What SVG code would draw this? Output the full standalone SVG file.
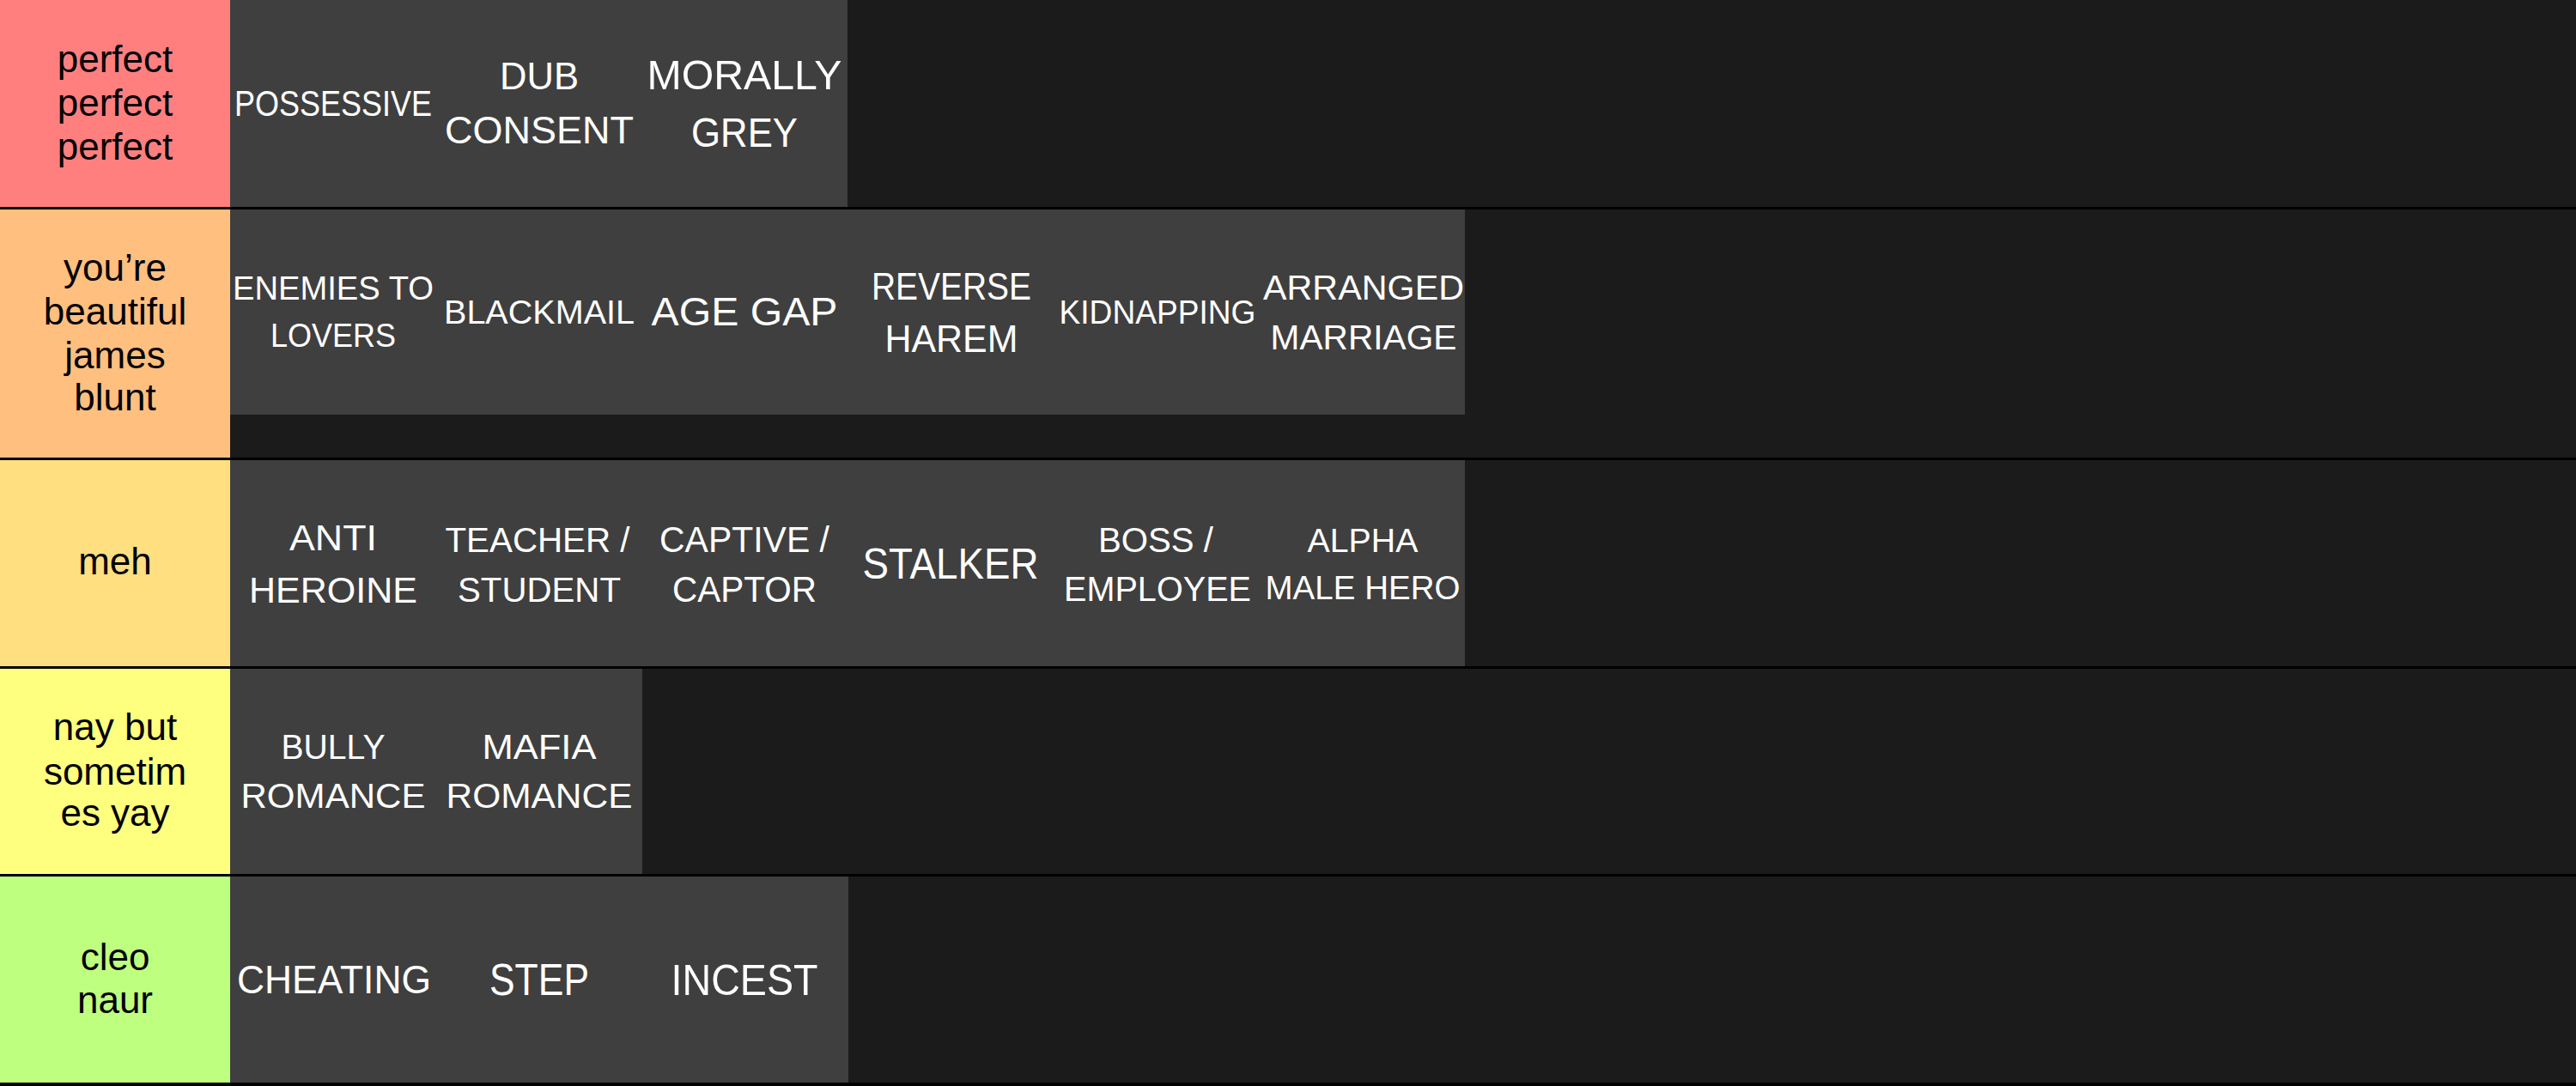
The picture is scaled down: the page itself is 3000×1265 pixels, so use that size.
<svg xmlns="http://www.w3.org/2000/svg" width="3000" height="1265" viewBox="0 0 3000 1265">
<style>
.lbl{font-family:"Liberation Sans",Arial,sans-serif;font-size:44px;fill:#000;text-anchor:middle}
.it{font-family:"Liberation Sans",Arial,sans-serif;fill:#fff;text-anchor:middle}
.card{fill:#3f3f3f}
.sep{fill:#000}
</style>
<rect x="0" y="0" width="3000" height="1265" fill="#1b1b1b"/>
<g id="connectors"></g>
<g id="separators">
<rect class="sep" x="0" y="241" width="3000" height="3"/>
<rect class="sep" x="0" y="533" width="3000" height="3"/>
<rect class="sep" x="0" y="776" width="3000" height="3"/>
<rect class="sep" x="0" y="1018" width="3000" height="3"/>
<rect class="sep" x="0" y="1261" width="3000" height="4"/>
</g>
<g id="tier-s">
<rect x="0" y="0" width="268" height="241" fill="#ff7f7f"/>
<text class="lbl" x="134" y="84">perfect</text>
<text class="lbl" x="134" y="135">perfect</text>
<text class="lbl" x="134" y="186">perfect</text>
</g>
<g id="tier-a">
<rect x="0" y="244" width="268" height="289" fill="#ffbf7f"/>
<text class="lbl" x="134" y="327">you’re</text>
<text class="lbl" x="134" y="378">beautiful</text>
<text class="lbl" x="134" y="429">james</text>
<text class="lbl" x="134" y="478">blunt</text>
</g>
<g id="tier-b">
<rect x="0" y="536" width="268" height="240" fill="#ffdf7f"/>
<text class="lbl" x="134" y="669">meh</text>
</g>
<g id="tier-c">
<rect x="0" y="779" width="268" height="239" fill="#ffff7f"/>
<text class="lbl" x="134" y="862">nay but</text>
<text class="lbl" x="134" y="914">sometim</text>
<text class="lbl" x="134" y="962">es yay</text>
</g>
<g id="tier-d">
<rect x="0" y="1021" width="268" height="240" fill="#bfff7f"/>
<text class="lbl" x="134" y="1130">cleo</text>
<text class="lbl" x="134" y="1180">naur</text>
</g>

<g id="item-possessive">
<rect class="card" x="268" y="0" width="240" height="241"/>
<text class="it" x="388" y="135" font-size="42" textLength="230" lengthAdjust="spacingAndGlyphs">POSSESSIVE</text>
</g>
<g id="item-dub-consent">
<rect class="card" x="508" y="0" width="240" height="241"/>
<text class="it" x="628" y="104" font-size="44" textLength="92" lengthAdjust="spacingAndGlyphs">DUB</text>
<text class="it" x="628" y="167" font-size="44" textLength="220" lengthAdjust="spacingAndGlyphs">CONSENT</text>
</g>
<g id="item-morally-grey">
<rect class="card" x="748" y="0" width="239" height="241"/>
<text class="it" x="867" y="104" font-size="49" textLength="227" lengthAdjust="spacingAndGlyphs">MORALLY</text>
<text class="it" x="867" y="171" font-size="49" textLength="124" lengthAdjust="spacingAndGlyphs">GREY</text>
</g>

<g id="item-enemies-to-lovers">
<rect class="card" x="268" y="244" width="240" height="239"/>
<text class="it" x="388" y="349" font-size="39" textLength="234" lengthAdjust="spacingAndGlyphs">ENEMIES TO</text>
<text class="it" x="388" y="404" font-size="39" textLength="146" lengthAdjust="spacingAndGlyphs">LOVERS</text>
</g>
<g id="item-blackmail">
<rect class="card" x="508" y="244" width="240" height="239"/>
<text class="it" x="628" y="377" font-size="38" textLength="222" lengthAdjust="spacingAndGlyphs">BLACKMAIL</text>
</g>
<g id="item-age-gap">
<rect class="card" x="748" y="244" width="240" height="239"/>
<text class="it" x="867" y="379" font-size="46" textLength="217" lengthAdjust="spacingAndGlyphs">AGE GAP</text>
</g>
<g id="item-reverse-harem">
<rect class="card" x="987" y="244" width="240" height="239"/>
<text class="it" x="1108" y="349" font-size="44" textLength="186" lengthAdjust="spacingAndGlyphs">REVERSE</text>
<text class="it" x="1108" y="410" font-size="44" textLength="155" lengthAdjust="spacingAndGlyphs">HAREM</text>
</g>
<g id="item-kidnapping">
<rect class="card" x="1227" y="244" width="240" height="239"/>
<text class="it" x="1348" y="377" font-size="39" textLength="229" lengthAdjust="spacingAndGlyphs">KIDNAPPING</text>
</g>
<g id="item-arranged-marriage">
<rect class="card" x="1467" y="244" width="239" height="239"/>
<text class="it" x="1588" y="349" font-size="41" textLength="234" lengthAdjust="spacingAndGlyphs">ARRANGED</text>
<text class="it" x="1588" y="407" font-size="41" textLength="217" lengthAdjust="spacingAndGlyphs">MARRIAGE</text>
</g>

<g id="item-anti-heroine">
<rect class="card" x="268" y="536" width="240" height="240"/>
<text class="it" x="388" y="641" font-size="43" textLength="102" lengthAdjust="spacingAndGlyphs">ANTI</text>
<text class="it" x="388" y="702" font-size="43" textLength="196" lengthAdjust="spacingAndGlyphs">HEROINE</text>
</g>
<g id="item-teacher-student">
<rect class="card" x="508" y="536" width="240" height="240"/>
<text class="it" x="626" y="643" font-size="41" textLength="215" lengthAdjust="spacingAndGlyphs">TEACHER /</text>
<text class="it" x="628" y="701" font-size="41" textLength="190" lengthAdjust="spacingAndGlyphs">STUDENT</text>
</g>
<g id="item-captive-captor">
<rect class="card" x="748" y="536" width="240" height="240"/>
<text class="it" x="867" y="643" font-size="42" textLength="198" lengthAdjust="spacingAndGlyphs">CAPTIVE /</text>
<text class="it" x="867" y="701" font-size="42" textLength="168" lengthAdjust="spacingAndGlyphs">CAPTOR</text>
</g>
<g id="item-stalker">
<rect class="card" x="987" y="536" width="240" height="240"/>
<text class="it" x="1107" y="674" font-size="50" textLength="205" lengthAdjust="spacingAndGlyphs">STALKER</text>
</g>
<g id="item-boss-employee">
<rect class="card" x="1227" y="536" width="240" height="240"/>
<text class="it" x="1346" y="643" font-size="40" textLength="134" lengthAdjust="spacingAndGlyphs">BOSS /</text>
<text class="it" x="1348" y="700" font-size="40" textLength="218" lengthAdjust="spacingAndGlyphs">EMPLOYEE</text>
</g>
<g id="item-alpha-male-hero">
<rect class="card" x="1467" y="536" width="239" height="240"/>
<text class="it" x="1587" y="643" font-size="39" textLength="129" lengthAdjust="spacingAndGlyphs">ALPHA</text>
<text class="it" x="1587" y="698" font-size="39" textLength="227" lengthAdjust="spacingAndGlyphs">MALE HERO</text>
</g>

<g id="item-bully-romance">
<rect class="card" x="268" y="779" width="240" height="239"/>
<text class="it" x="388" y="884" font-size="41" textLength="121" lengthAdjust="spacingAndGlyphs">BULLY</text>
<text class="it" x="388" y="941" font-size="41" textLength="215" lengthAdjust="spacingAndGlyphs">ROMANCE</text>
</g>
<g id="item-mafia-romance">
<rect class="card" x="508" y="779" width="240" height="239"/>
<text class="it" x="628" y="884" font-size="41" textLength="133" lengthAdjust="spacingAndGlyphs">MAFIA</text>
<text class="it" x="628" y="941" font-size="41" textLength="217" lengthAdjust="spacingAndGlyphs">ROMANCE</text>
</g>

<g id="item-cheating">
<rect class="card" x="268" y="1021" width="240" height="240"/>
<text class="it" x="389" y="1157" font-size="46" textLength="226" lengthAdjust="spacingAndGlyphs">CHEATING</text>
</g>
<g id="item-step">
<rect class="card" x="508" y="1021" width="240" height="240"/>
<text class="it" x="628" y="1159" font-size="51" textLength="116" lengthAdjust="spacingAndGlyphs">STEP</text>
</g>
<g id="item-incest">
<rect class="card" x="748" y="1021" width="240" height="240"/>
<text class="it" x="867" y="1159" font-size="50" textLength="171" lengthAdjust="spacingAndGlyphs">INCEST</text>
</g>
</svg>
